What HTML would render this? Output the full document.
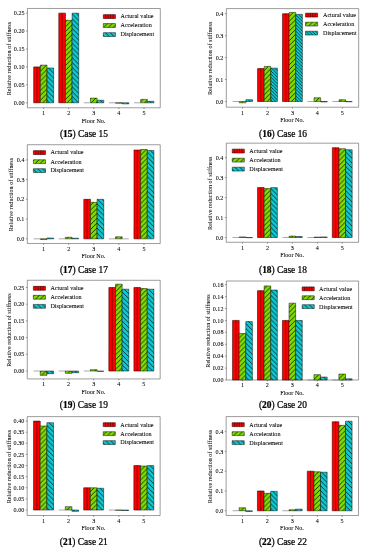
<!DOCTYPE html>
<html lang="en">
<head>
<meta charset="utf-8">
<title>Figure: Cases 15-22</title>
<style>
html,body{margin:0;padding:0;background:#fff;}
body{width:371px;height:550px;overflow:hidden;}
svg{display:block;}
text{font-family:"Liberation Serif","DejaVu Serif",serif;fill:#111;}
.t{font-size:6.12px;fill:#000;stroke:#000;stroke-width:0.06px;}
.cap{font-size:9.6px;fill:#000;}
.yl{stroke-width:0.03px;}
.b{font-weight:bold;}
</style>
</head>
<body>
<svg width="371" height="550" viewBox="0 0 371 550">
<defs>
<pattern id="hg" patternUnits="userSpaceOnUse" width="4.85" height="4.85">
<path d="M-1,1 L1,-1 M0,4.85 L4.85,0 M3.8499999999999996,5.85 L5.85,3.8499999999999996" stroke="#061000" stroke-width="0.9" stroke-opacity="0.9" fill="none"/>
</pattern>
<pattern id="hc" patternUnits="userSpaceOnUse" width="4.85" height="4.85">
<path d="M-1,3.8499999999999996 L1,5.85 M0,0 L4.85,4.85 M3.8499999999999996,-1 L5.85,1" stroke="#001012" stroke-width="0.9" stroke-opacity="0.9" fill="none"/>
</pattern>
<pattern id="hd" patternUnits="userSpaceOnUse" width="3.23" height="3.23">
<path d="M-1,2.23 L1,4.23 M0,0 L3.23,3.23 M2.23,-1 L4.23,1" stroke="#001012" stroke-width="0.8" stroke-opacity="0.88" fill="none"/>
</pattern>
</defs>
<rect x="0" y="0" width="371" height="550" fill="#ffffff"/>
<g transform="rotate(0.02)">

<g>
<rect x="27.45" y="8.45" width="132.85" height="99.3" fill="#fff" stroke="#3a3a3a" stroke-width="0.5"/>
<rect x="33.73" y="66.9" width="6.65" height="35.85" fill="#ff0000"/>
<path d="M37.05,66.9 v35.85" stroke="#700000" stroke-width="0.9" stroke-opacity="0.85" fill="none"/>
<rect x="33.73" y="66.9" width="6.65" height="35.85" fill="none" stroke="#3a0000" stroke-width="0.6"/>
<rect x="40.38" y="65.11" width="6.65" height="37.64" fill="#80dc00"/>
<rect x="40.38" y="65.11" width="6.65" height="37.64" fill="url(#hg)" stroke="#0c0c0c" stroke-width="0.5"/>
<rect x="47.02" y="67.98" width="6.65" height="34.77" fill="#10c8d0"/>
<rect x="47.02" y="67.98" width="6.65" height="34.77" fill="url(#hc)" stroke="#0c0c0c" stroke-width="0.5"/>
<rect x="58.81" y="13.12" width="6.65" height="89.62" fill="#ff0000"/>
<path d="M62.13,13.12 v89.62" stroke="#700000" stroke-width="0.9" stroke-opacity="0.85" fill="none"/>
<rect x="58.81" y="13.12" width="6.65" height="89.62" fill="none" stroke="#3a0000" stroke-width="0.6"/>
<rect x="65.46" y="20.3" width="6.65" height="82.45" fill="#80dc00"/>
<rect x="65.46" y="20.3" width="6.65" height="82.45" fill="url(#hg)" stroke="#0c0c0c" stroke-width="0.5"/>
<rect x="72.1" y="13.12" width="6.65" height="89.62" fill="#10c8d0"/>
<rect x="72.1" y="13.12" width="6.65" height="89.62" fill="url(#hc)" stroke="#0c0c0c" stroke-width="0.5"/>
<path d="M83.89,102.75 h6.65" stroke="#555" stroke-width="0.5" fill="none"/>
<rect x="90.54" y="98.09" width="6.65" height="4.66" fill="#80dc00"/>
<rect x="90.54" y="98.09" width="6.65" height="4.66" fill="url(#hg)" stroke="#0c0c0c" stroke-width="0.5"/>
<rect x="97.18" y="100.24" width="6.65" height="2.51" fill="#10c8d0"/>
<rect x="97.18" y="100.24" width="6.65" height="2.51" fill="url(#hc)" stroke="#0c0c0c" stroke-width="0.5"/>
<path d="M108.97,102.75 h6.65" stroke="#555" stroke-width="0.5" fill="none"/>
<rect x="115.62" y="102.75" width="6.65" height="0.36" fill="#80dc00"/>
<rect x="115.62" y="102.75" width="6.65" height="0.36" fill="url(#hg)" stroke="#0c0c0c" stroke-width="0.5"/>
<rect x="122.26" y="102.75" width="6.65" height="1.08" fill="#10c8d0"/>
<rect x="122.26" y="102.75" width="6.65" height="1.08" fill="url(#hc)" stroke="#0c0c0c" stroke-width="0.5"/>
<path d="M134.05,102.75 h6.65" stroke="#555" stroke-width="0.5" fill="none"/>
<rect x="140.7" y="99.34" width="6.65" height="3.41" fill="#80dc00"/>
<rect x="140.7" y="99.34" width="6.65" height="3.41" fill="url(#hg)" stroke="#0c0c0c" stroke-width="0.5"/>
<rect x="147.34" y="101.32" width="6.65" height="1.43" fill="#10c8d0"/>
<rect x="147.34" y="101.32" width="6.65" height="1.43" fill="url(#hc)" stroke="#0c0c0c" stroke-width="0.5"/>
<path d="M27.45,102.75 h-1.4 M27.45,84.83 h-1.4 M27.45,66.9 h-1.4 M27.45,48.98 h-1.4 M27.45,31.05 h-1.4 M27.45,13.12 h-1.4 M43.7,107.75 v1.4 M68.78,107.75 v1.4 M93.86,107.75 v1.4 M118.94,107.75 v1.4 M144.02,107.75 v1.4" stroke="#3a3a3a" stroke-width="0.5" fill="none"/>
<text class="t" x="24.55" y="104.9" text-anchor="end">0.00</text>
<text class="t" x="24.55" y="86.98" text-anchor="end">0.05</text>
<text class="t" x="24.55" y="69.05" text-anchor="end">0.10</text>
<text class="t" x="24.55" y="51.12" text-anchor="end">0.15</text>
<text class="t" x="24.55" y="33.2" text-anchor="end">0.20</text>
<text class="t" x="24.55" y="15.28" text-anchor="end">0.25</text>
<text class="t" x="43.7" y="115.15" text-anchor="middle">1</text>
<text class="t" x="68.78" y="115.15" text-anchor="middle">2</text>
<text class="t" x="93.86" y="115.15" text-anchor="middle">3</text>
<text class="t" x="118.94" y="115.15" text-anchor="middle">4</text>
<text class="t" x="144.02" y="115.15" text-anchor="middle">5</text>
<text class="t" x="93.56" y="122.7" text-anchor="middle">Floor No.</text>
<text class="t yl" transform="translate(10.85,58.6) rotate(-90)" text-anchor="middle">Relative reduction of stiffness</text>
<rect x="103.35" y="14.6" width="12.1" height="3.85" fill="#ff0000"/>
<path d="M105.77,14.6 v3.85 M108.19,14.6 v3.85 M110.61,14.6 v3.85 M113.03,14.6 v3.85" stroke="#600000" stroke-width="0.8" stroke-opacity="0.95" fill="none"/>
<rect x="103.35" y="14.6" width="12.1" height="3.85" fill="none" stroke="#3a0000" stroke-width="0.6"/>
<text class="t" x="120.5" y="18.4">Actural value</text>
<rect x="103.35" y="23.55" width="12.1" height="3.85" fill="#80dc00"/>
<rect x="103.35" y="23.55" width="12.1" height="3.85" fill="url(#hg)" stroke="#0c0c0c" stroke-width="0.5"/>
<text class="t" x="120.5" y="27.35">Acceleration</text>
<rect x="103.35" y="32.6" width="12.1" height="3.85" fill="#10c8d0"/>
<rect x="103.35" y="32.6" width="12.1" height="3.85" fill="url(#hc)" stroke="#0c0c0c" stroke-width="0.5"/>
<text class="t" x="120.5" y="36.4">Displacement</text>
<text class="cap" stroke="#000" stroke-width="0.24" x="84" y="136.65" text-anchor="middle" textLength="48" lengthAdjust="spacingAndGlyphs">(<tspan class="b">15</tspan>) Case 15</text>
</g>
<g>
<rect x="226.35" y="8.5" width="132.35" height="98.6" fill="#fff" stroke="#3a3a3a" stroke-width="0.5"/>
<path d="M232.69,101.4 h6.61" stroke="#555" stroke-width="0.5" fill="none"/>
<rect x="239.3" y="101.4" width="6.61" height="1.32" fill="#80dc00"/>
<rect x="239.3" y="101.4" width="6.61" height="1.32" fill="url(#hg)" stroke="#0c0c0c" stroke-width="0.5"/>
<rect x="245.9" y="99.64" width="6.61" height="1.76" fill="#10c8d0"/>
<rect x="245.9" y="99.64" width="6.61" height="1.76" fill="url(#hd)" stroke="#0c0c0c" stroke-width="0.5"/>
<rect x="257.62" y="68.49" width="6.61" height="32.91" fill="#ff0000"/>
<path d="M260.92,68.49 v32.91" stroke="#700000" stroke-width="0.9" stroke-opacity="0.85" fill="none"/>
<rect x="257.62" y="68.49" width="6.61" height="32.91" fill="none" stroke="#3a0000" stroke-width="0.6"/>
<rect x="264.23" y="66.3" width="6.61" height="35.1" fill="#80dc00"/>
<rect x="264.23" y="66.3" width="6.61" height="35.1" fill="url(#hg)" stroke="#0c0c0c" stroke-width="0.5"/>
<rect x="270.83" y="68.05" width="6.61" height="33.35" fill="#10c8d0"/>
<rect x="270.83" y="68.05" width="6.61" height="33.35" fill="url(#hd)" stroke="#0c0c0c" stroke-width="0.5"/>
<rect x="282.55" y="13.64" width="6.61" height="87.76" fill="#ff0000"/>
<path d="M285.85,13.64 v87.76" stroke="#700000" stroke-width="0.9" stroke-opacity="0.85" fill="none"/>
<rect x="282.55" y="13.64" width="6.61" height="87.76" fill="none" stroke="#3a0000" stroke-width="0.6"/>
<rect x="289.16" y="12.32" width="6.61" height="89.08" fill="#80dc00"/>
<rect x="289.16" y="12.32" width="6.61" height="89.08" fill="url(#hg)" stroke="#0c0c0c" stroke-width="0.5"/>
<rect x="295.76" y="14.3" width="6.61" height="87.1" fill="#10c8d0"/>
<rect x="295.76" y="14.3" width="6.61" height="87.1" fill="url(#hd)" stroke="#0c0c0c" stroke-width="0.5"/>
<path d="M307.48,101.4 h6.61" stroke="#555" stroke-width="0.5" fill="none"/>
<rect x="314.09" y="97.67" width="6.61" height="3.73" fill="#80dc00"/>
<rect x="314.09" y="97.67" width="6.61" height="3.73" fill="url(#hg)" stroke="#0c0c0c" stroke-width="0.5"/>
<rect x="320.69" y="101.4" width="6.61" height="0.44" fill="#10c8d0"/>
<rect x="320.69" y="101.4" width="6.61" height="0.44" fill="url(#hd)" stroke="#0c0c0c" stroke-width="0.5"/>
<path d="M332.41,101.4 h6.61" stroke="#555" stroke-width="0.5" fill="none"/>
<rect x="339.02" y="99.64" width="6.61" height="1.76" fill="#80dc00"/>
<rect x="339.02" y="99.64" width="6.61" height="1.76" fill="url(#hg)" stroke="#0c0c0c" stroke-width="0.5"/>
<rect x="345.62" y="101.4" width="6.61" height="0.22" fill="#10c8d0"/>
<rect x="345.62" y="101.4" width="6.61" height="0.22" fill="url(#hd)" stroke="#0c0c0c" stroke-width="0.5"/>
<path d="M226.35,101.4 h-1.4 M226.35,79.46 h-1.4 M226.35,57.52 h-1.4 M226.35,35.58 h-1.4 M226.35,13.64 h-1.4 M242.6,107.1 v1.4 M267.53,107.1 v1.4 M292.46,107.1 v1.4 M317.39,107.1 v1.4 M342.32,107.1 v1.4" stroke="#3a3a3a" stroke-width="0.5" fill="none"/>
<text class="t" x="223.45" y="103.55" text-anchor="end">0.0</text>
<text class="t" x="223.45" y="81.61" text-anchor="end">0.1</text>
<text class="t" x="223.45" y="59.67" text-anchor="end">0.2</text>
<text class="t" x="223.45" y="37.73" text-anchor="end">0.3</text>
<text class="t" x="223.45" y="15.79" text-anchor="end">0.4</text>
<text class="t" x="242.6" y="114.5" text-anchor="middle">1</text>
<text class="t" x="267.53" y="114.5" text-anchor="middle">2</text>
<text class="t" x="292.46" y="114.5" text-anchor="middle">3</text>
<text class="t" x="317.39" y="114.5" text-anchor="middle">4</text>
<text class="t" x="342.32" y="114.5" text-anchor="middle">5</text>
<text class="t" x="292.16" y="122.05" text-anchor="middle">Floor No.</text>
<text class="t yl" transform="translate(212.25,58.3) rotate(-90)" text-anchor="middle">Relative reduction of stiffness</text>
<rect x="305.55" y="13.1" width="12.1" height="3.85" fill="#ff0000"/>
<path d="M307.97,13.1 v3.85 M310.39,13.1 v3.85 M312.81,13.1 v3.85 M315.23,13.1 v3.85" stroke="#600000" stroke-width="0.8" stroke-opacity="0.95" fill="none"/>
<rect x="305.55" y="13.1" width="12.1" height="3.85" fill="none" stroke="#3a0000" stroke-width="0.6"/>
<text class="t" x="323" y="16.9">Actural value</text>
<rect x="305.55" y="22.1" width="12.1" height="3.85" fill="#80dc00"/>
<rect x="305.55" y="22.1" width="12.1" height="3.85" fill="url(#hg)" stroke="#0c0c0c" stroke-width="0.5"/>
<text class="t" x="323" y="25.9">Acceleration</text>
<rect x="305.55" y="31.1" width="12.1" height="3.85" fill="#10c8d0"/>
<rect x="305.55" y="31.1" width="12.1" height="3.85" fill="url(#hd)" stroke="#0c0c0c" stroke-width="0.5"/>
<text class="t" x="323" y="34.9">Displacement</text>
<text class="cap" stroke="#000" stroke-width="0.24" x="283.1" y="136.65" text-anchor="middle" textLength="48" lengthAdjust="spacingAndGlyphs">(<tspan class="b">16</tspan>) Case 16</text>
</g>
<g>
<rect x="27.4" y="144.7" width="132.9" height="98.8" fill="#fff" stroke="#3a3a3a" stroke-width="0.5"/>
<path d="M33.73,238.8 h6.65" stroke="#555" stroke-width="0.5" fill="none"/>
<rect x="40.38" y="238.8" width="6.65" height="0.59" fill="#80dc00"/>
<rect x="40.38" y="238.8" width="6.65" height="0.59" fill="url(#hg)" stroke="#0c0c0c" stroke-width="0.5"/>
<rect x="47.02" y="238.01" width="6.65" height="0.79" fill="#10c8d0"/>
<rect x="47.02" y="238.01" width="6.65" height="0.79" fill="url(#hc)" stroke="#0c0c0c" stroke-width="0.5"/>
<path d="M58.81,238.8 h6.65" stroke="#555" stroke-width="0.5" fill="none"/>
<rect x="65.46" y="237.22" width="6.65" height="1.58" fill="#80dc00"/>
<rect x="65.46" y="237.22" width="6.65" height="1.58" fill="url(#hg)" stroke="#0c0c0c" stroke-width="0.5"/>
<rect x="72.1" y="238.21" width="6.65" height="0.59" fill="#10c8d0"/>
<rect x="72.1" y="238.21" width="6.65" height="0.59" fill="url(#hc)" stroke="#0c0c0c" stroke-width="0.5"/>
<rect x="83.89" y="199.34" width="6.65" height="39.46" fill="#ff0000"/>
<path d="M87.21,199.34 v39.46" stroke="#700000" stroke-width="0.9" stroke-opacity="0.85" fill="none"/>
<rect x="83.89" y="199.34" width="6.65" height="39.46" fill="none" stroke="#3a0000" stroke-width="0.6"/>
<rect x="90.54" y="202.3" width="6.65" height="36.5" fill="#80dc00"/>
<rect x="90.54" y="202.3" width="6.65" height="36.5" fill="url(#hg)" stroke="#0c0c0c" stroke-width="0.5"/>
<rect x="97.18" y="199.34" width="6.65" height="39.46" fill="#10c8d0"/>
<rect x="97.18" y="199.34" width="6.65" height="39.46" fill="url(#hc)" stroke="#0c0c0c" stroke-width="0.5"/>
<path d="M108.97,238.8 h6.65" stroke="#555" stroke-width="0.5" fill="none"/>
<rect x="115.62" y="236.83" width="6.65" height="1.97" fill="#80dc00"/>
<rect x="115.62" y="236.83" width="6.65" height="1.97" fill="url(#hg)" stroke="#0c0c0c" stroke-width="0.5"/>
<path d="M122.26,238.8 h6.65" stroke="#555" stroke-width="0.5" fill="none"/>
<rect x="134.05" y="150.01" width="6.65" height="88.79" fill="#ff0000"/>
<path d="M137.37,150.01 v88.79" stroke="#700000" stroke-width="0.9" stroke-opacity="0.85" fill="none"/>
<rect x="134.05" y="150.01" width="6.65" height="88.79" fill="none" stroke="#3a0000" stroke-width="0.6"/>
<rect x="140.7" y="149.42" width="6.65" height="89.38" fill="#80dc00"/>
<rect x="140.7" y="149.42" width="6.65" height="89.38" fill="url(#hg)" stroke="#0c0c0c" stroke-width="0.5"/>
<rect x="147.34" y="150.41" width="6.65" height="88.39" fill="#10c8d0"/>
<rect x="147.34" y="150.41" width="6.65" height="88.39" fill="url(#hc)" stroke="#0c0c0c" stroke-width="0.5"/>
<path d="M27.4,238.8 h-1.4 M27.4,219.07 h-1.4 M27.4,199.34 h-1.4 M27.4,179.61 h-1.4 M27.4,159.88 h-1.4 M43.7,243.5 v1.4 M68.78,243.5 v1.4 M93.86,243.5 v1.4 M118.94,243.5 v1.4 M144.02,243.5 v1.4" stroke="#3a3a3a" stroke-width="0.5" fill="none"/>
<text class="t" x="24.5" y="240.95" text-anchor="end">0.0</text>
<text class="t" x="24.5" y="221.22" text-anchor="end">0.1</text>
<text class="t" x="24.5" y="201.49" text-anchor="end">0.2</text>
<text class="t" x="24.5" y="181.76" text-anchor="end">0.3</text>
<text class="t" x="24.5" y="162.03" text-anchor="end">0.4</text>
<text class="t" x="43.7" y="250.9" text-anchor="middle">1</text>
<text class="t" x="68.78" y="250.9" text-anchor="middle">2</text>
<text class="t" x="93.86" y="250.9" text-anchor="middle">3</text>
<text class="t" x="118.94" y="250.9" text-anchor="middle">4</text>
<text class="t" x="144.02" y="250.9" text-anchor="middle">5</text>
<text class="t" x="93.56" y="258.45" text-anchor="middle">Floor No.</text>
<text class="t yl" transform="translate(13.3,194.6) rotate(-90)" text-anchor="middle">Relative reduction of stiffness</text>
<rect x="33.45" y="150.65" width="12.1" height="3.85" fill="#ff0000"/>
<path d="M35.87,150.65 v3.85 M38.29,150.65 v3.85 M40.71,150.65 v3.85 M43.13,150.65 v3.85" stroke="#600000" stroke-width="0.8" stroke-opacity="0.95" fill="none"/>
<rect x="33.45" y="150.65" width="12.1" height="3.85" fill="none" stroke="#3a0000" stroke-width="0.6"/>
<text class="t" x="50.5" y="154.45">Actural value</text>
<rect x="33.45" y="159.75" width="12.1" height="3.85" fill="#80dc00"/>
<rect x="33.45" y="159.75" width="12.1" height="3.85" fill="url(#hg)" stroke="#0c0c0c" stroke-width="0.5"/>
<text class="t" x="50.5" y="163.55">Acceleration</text>
<rect x="33.45" y="168.65" width="12.1" height="3.85" fill="#10c8d0"/>
<rect x="33.45" y="168.65" width="12.1" height="3.85" fill="url(#hc)" stroke="#0c0c0c" stroke-width="0.5"/>
<text class="t" x="50.5" y="172.45">Displacement</text>
<text class="cap" stroke="#000" stroke-width="0.24" x="84" y="272.75" text-anchor="middle" textLength="48" lengthAdjust="spacingAndGlyphs">(<tspan class="b">17</tspan>) Case 17</text>
</g>
<g>
<rect x="226.35" y="143.07" width="132.35" height="99.13" fill="#fff" stroke="#3a3a3a" stroke-width="0.5"/>
<path d="M232.69,237.4 h6.61" stroke="#555" stroke-width="0.5" fill="none"/>
<rect x="239.3" y="236.8" width="6.61" height="0.6" fill="#80dc00"/>
<rect x="239.3" y="236.8" width="6.61" height="0.6" fill="url(#hg)" stroke="#0c0c0c" stroke-width="0.5"/>
<rect x="245.9" y="237.4" width="6.61" height="0.2" fill="#10c8d0"/>
<rect x="245.9" y="237.4" width="6.61" height="0.2" fill="url(#hc)" stroke="#0c0c0c" stroke-width="0.5"/>
<rect x="257.62" y="187.53" width="6.61" height="49.88" fill="#ff0000"/>
<path d="M260.92,187.53 v49.88" stroke="#700000" stroke-width="0.9" stroke-opacity="0.85" fill="none"/>
<rect x="257.62" y="187.53" width="6.61" height="49.88" fill="none" stroke="#3a0000" stroke-width="0.6"/>
<rect x="264.23" y="188.52" width="6.61" height="48.88" fill="#80dc00"/>
<rect x="264.23" y="188.52" width="6.61" height="48.88" fill="url(#hg)" stroke="#0c0c0c" stroke-width="0.5"/>
<rect x="270.83" y="187.53" width="6.61" height="49.88" fill="#10c8d0"/>
<rect x="270.83" y="187.53" width="6.61" height="49.88" fill="url(#hc)" stroke="#0c0c0c" stroke-width="0.5"/>
<path d="M282.55,237.4 h6.61" stroke="#555" stroke-width="0.5" fill="none"/>
<rect x="289.16" y="236" width="6.61" height="1.4" fill="#80dc00"/>
<rect x="289.16" y="236" width="6.61" height="1.4" fill="url(#hg)" stroke="#0c0c0c" stroke-width="0.5"/>
<rect x="295.76" y="236.4" width="6.61" height="1" fill="#10c8d0"/>
<rect x="295.76" y="236.4" width="6.61" height="1" fill="url(#hc)" stroke="#0c0c0c" stroke-width="0.5"/>
<path d="M307.48,237.4 h6.61" stroke="#555" stroke-width="0.5" fill="none"/>
<rect x="314.09" y="237" width="6.61" height="0.4" fill="#80dc00"/>
<rect x="314.09" y="237" width="6.61" height="0.4" fill="url(#hg)" stroke="#0c0c0c" stroke-width="0.5"/>
<rect x="320.69" y="236.8" width="6.61" height="0.6" fill="#10c8d0"/>
<rect x="320.69" y="236.8" width="6.61" height="0.6" fill="url(#hc)" stroke="#0c0c0c" stroke-width="0.5"/>
<rect x="332.41" y="147.62" width="6.61" height="89.78" fill="#ff0000"/>
<path d="M335.71,147.62 v89.78" stroke="#700000" stroke-width="0.9" stroke-opacity="0.85" fill="none"/>
<rect x="332.41" y="147.62" width="6.61" height="89.78" fill="none" stroke="#3a0000" stroke-width="0.6"/>
<rect x="339.02" y="148.62" width="6.61" height="88.78" fill="#80dc00"/>
<rect x="339.02" y="148.62" width="6.61" height="88.78" fill="url(#hg)" stroke="#0c0c0c" stroke-width="0.5"/>
<rect x="345.62" y="149.62" width="6.61" height="87.78" fill="#10c8d0"/>
<rect x="345.62" y="149.62" width="6.61" height="87.78" fill="url(#hc)" stroke="#0c0c0c" stroke-width="0.5"/>
<path d="M226.35,237.4 h-1.4 M226.35,217.45 h-1.4 M226.35,197.5 h-1.4 M226.35,177.55 h-1.4 M226.35,157.6 h-1.4 M242.6,242.2 v1.4 M267.53,242.2 v1.4 M292.46,242.2 v1.4 M317.39,242.2 v1.4 M342.32,242.2 v1.4" stroke="#3a3a3a" stroke-width="0.5" fill="none"/>
<text class="t" x="223.45" y="239.55" text-anchor="end">0.0</text>
<text class="t" x="223.45" y="219.6" text-anchor="end">0.1</text>
<text class="t" x="223.45" y="199.65" text-anchor="end">0.2</text>
<text class="t" x="223.45" y="179.7" text-anchor="end">0.3</text>
<text class="t" x="223.45" y="159.75" text-anchor="end">0.4</text>
<text class="t" x="242.6" y="249.6" text-anchor="middle">1</text>
<text class="t" x="267.53" y="249.6" text-anchor="middle">2</text>
<text class="t" x="292.46" y="249.6" text-anchor="middle">3</text>
<text class="t" x="317.39" y="249.6" text-anchor="middle">4</text>
<text class="t" x="342.32" y="249.6" text-anchor="middle">5</text>
<text class="t" x="292.16" y="257.15" text-anchor="middle">Floor No.</text>
<text class="t yl" transform="translate(212.25,193.13) rotate(-90)" text-anchor="middle">Relative reduction of stiffness</text>
<rect x="232.3" y="149.05" width="12.1" height="3.85" fill="#ff0000"/>
<path d="M234.72,149.05 v3.85 M237.14,149.05 v3.85 M239.56,149.05 v3.85 M241.98,149.05 v3.85" stroke="#600000" stroke-width="0.8" stroke-opacity="0.95" fill="none"/>
<rect x="232.3" y="149.05" width="12.1" height="3.85" fill="none" stroke="#3a0000" stroke-width="0.6"/>
<text class="t" x="249.4" y="152.85">Actural value</text>
<rect x="232.3" y="158.15" width="12.1" height="3.85" fill="#80dc00"/>
<rect x="232.3" y="158.15" width="12.1" height="3.85" fill="url(#hg)" stroke="#0c0c0c" stroke-width="0.5"/>
<text class="t" x="249.4" y="161.95">Acceleration</text>
<rect x="232.3" y="167.15" width="12.1" height="3.85" fill="#10c8d0"/>
<rect x="232.3" y="167.15" width="12.1" height="3.85" fill="url(#hc)" stroke="#0c0c0c" stroke-width="0.5"/>
<text class="t" x="249.4" y="170.95">Displacement</text>
<text class="cap" stroke="#000" stroke-width="0.24" x="283.1" y="272.75" text-anchor="middle" textLength="48" lengthAdjust="spacingAndGlyphs">(<tspan class="b">18</tspan>) Case 18</text>
</g>
<g>
<rect x="27.4" y="280.25" width="132.9" height="98.65" fill="#fff" stroke="#3a3a3a" stroke-width="0.5"/>
<path d="M33.73,371 h6.65" stroke="#555" stroke-width="0.5" fill="none"/>
<rect x="40.38" y="371" width="6.65" height="4.34" fill="#80dc00"/>
<rect x="40.38" y="371" width="6.65" height="4.34" fill="url(#hg)" stroke="#0c0c0c" stroke-width="0.5"/>
<rect x="47.02" y="371" width="6.65" height="2.67" fill="#10c8d0"/>
<rect x="47.02" y="371" width="6.65" height="2.67" fill="url(#hc)" stroke="#0c0c0c" stroke-width="0.5"/>
<path d="M58.81,371 h6.65" stroke="#555" stroke-width="0.5" fill="none"/>
<rect x="65.46" y="371" width="6.65" height="2.34" fill="#80dc00"/>
<rect x="65.46" y="371" width="6.65" height="2.34" fill="url(#hg)" stroke="#0c0c0c" stroke-width="0.5"/>
<rect x="72.1" y="371" width="6.65" height="1.67" fill="#10c8d0"/>
<rect x="72.1" y="371" width="6.65" height="1.67" fill="url(#hc)" stroke="#0c0c0c" stroke-width="0.5"/>
<path d="M83.89,371 h6.65" stroke="#555" stroke-width="0.5" fill="none"/>
<rect x="90.54" y="369.66" width="6.65" height="1.34" fill="#80dc00"/>
<rect x="90.54" y="369.66" width="6.65" height="1.34" fill="url(#hg)" stroke="#0c0c0c" stroke-width="0.5"/>
<rect x="97.18" y="371" width="6.65" height="0.33" fill="#10c8d0"/>
<rect x="97.18" y="371" width="6.65" height="0.33" fill="url(#hc)" stroke="#0c0c0c" stroke-width="0.5"/>
<rect x="108.97" y="287.5" width="6.65" height="83.5" fill="#ff0000"/>
<path d="M112.29,287.5 v83.5" stroke="#700000" stroke-width="0.9" stroke-opacity="0.85" fill="none"/>
<rect x="108.97" y="287.5" width="6.65" height="83.5" fill="none" stroke="#3a0000" stroke-width="0.6"/>
<rect x="115.62" y="284.16" width="6.65" height="86.84" fill="#80dc00"/>
<rect x="115.62" y="284.16" width="6.65" height="86.84" fill="url(#hg)" stroke="#0c0c0c" stroke-width="0.5"/>
<rect x="122.26" y="289.17" width="6.65" height="81.83" fill="#10c8d0"/>
<rect x="122.26" y="289.17" width="6.65" height="81.83" fill="url(#hc)" stroke="#0c0c0c" stroke-width="0.5"/>
<rect x="134.05" y="287.5" width="6.65" height="83.5" fill="#ff0000"/>
<path d="M137.37,287.5 v83.5" stroke="#700000" stroke-width="0.9" stroke-opacity="0.85" fill="none"/>
<rect x="134.05" y="287.5" width="6.65" height="83.5" fill="none" stroke="#3a0000" stroke-width="0.6"/>
<rect x="140.7" y="288.5" width="6.65" height="82.5" fill="#80dc00"/>
<rect x="140.7" y="288.5" width="6.65" height="82.5" fill="url(#hg)" stroke="#0c0c0c" stroke-width="0.5"/>
<rect x="147.34" y="289.17" width="6.65" height="81.83" fill="#10c8d0"/>
<rect x="147.34" y="289.17" width="6.65" height="81.83" fill="url(#hc)" stroke="#0c0c0c" stroke-width="0.5"/>
<path d="M27.4,371 h-1.4 M27.4,354.3 h-1.4 M27.4,337.6 h-1.4 M27.4,320.9 h-1.4 M27.4,304.2 h-1.4 M27.4,287.5 h-1.4 M43.7,378.9 v1.4 M68.78,378.9 v1.4 M93.86,378.9 v1.4 M118.94,378.9 v1.4 M144.02,378.9 v1.4" stroke="#3a3a3a" stroke-width="0.5" fill="none"/>
<text class="t" x="24.5" y="373.15" text-anchor="end">0.00</text>
<text class="t" x="24.5" y="356.45" text-anchor="end">0.05</text>
<text class="t" x="24.5" y="339.75" text-anchor="end">0.10</text>
<text class="t" x="24.5" y="323.05" text-anchor="end">0.15</text>
<text class="t" x="24.5" y="306.35" text-anchor="end">0.20</text>
<text class="t" x="24.5" y="289.65" text-anchor="end">0.25</text>
<text class="t" x="43.7" y="386.3" text-anchor="middle">1</text>
<text class="t" x="68.78" y="386.3" text-anchor="middle">2</text>
<text class="t" x="93.86" y="386.3" text-anchor="middle">3</text>
<text class="t" x="118.94" y="386.3" text-anchor="middle">4</text>
<text class="t" x="144.02" y="386.3" text-anchor="middle">5</text>
<text class="t" x="93.56" y="393.85" text-anchor="middle">Floor No.</text>
<text class="t yl" transform="translate(10.8,330.07) rotate(-90)" text-anchor="middle">Relative reduction of stiffness</text>
<rect x="33.45" y="286.35" width="12.1" height="3.85" fill="#ff0000"/>
<path d="M35.87,286.35 v3.85 M38.29,286.35 v3.85 M40.71,286.35 v3.85 M43.13,286.35 v3.85" stroke="#600000" stroke-width="0.8" stroke-opacity="0.95" fill="none"/>
<rect x="33.45" y="286.35" width="12.1" height="3.85" fill="none" stroke="#3a0000" stroke-width="0.6"/>
<text class="t" x="50.5" y="290.15">Actural value</text>
<rect x="33.45" y="295.3" width="12.1" height="3.85" fill="#80dc00"/>
<rect x="33.45" y="295.3" width="12.1" height="3.85" fill="url(#hg)" stroke="#0c0c0c" stroke-width="0.5"/>
<text class="t" x="50.5" y="299.1">Acceleration</text>
<rect x="33.45" y="304.4" width="12.1" height="3.85" fill="#10c8d0"/>
<rect x="33.45" y="304.4" width="12.1" height="3.85" fill="url(#hc)" stroke="#0c0c0c" stroke-width="0.5"/>
<text class="t" x="50.5" y="308.2">Displacement</text>
<text class="cap" stroke="#000" stroke-width="0.24" x="84" y="408.25" text-anchor="middle" textLength="48" lengthAdjust="spacingAndGlyphs">(<tspan class="b">19</tspan>) Case 19</text>
</g>
<g>
<rect x="226.5" y="280.95" width="132.2" height="98.95" fill="#fff" stroke="#3a3a3a" stroke-width="0.5"/>
<rect x="232.69" y="320.34" width="6.61" height="59.56" fill="#ff0000"/>
<path d="M235.99,320.34 v59.56" stroke="#700000" stroke-width="0.9" stroke-opacity="0.85" fill="none"/>
<rect x="232.69" y="320.34" width="6.61" height="59.56" fill="none" stroke="#3a0000" stroke-width="0.6"/>
<rect x="239.3" y="333.44" width="6.61" height="46.46" fill="#80dc00"/>
<rect x="239.3" y="333.44" width="6.61" height="46.46" fill="url(#hg)" stroke="#0c0c0c" stroke-width="0.5"/>
<rect x="245.9" y="321.53" width="6.61" height="58.37" fill="#10c8d0"/>
<rect x="245.9" y="321.53" width="6.61" height="58.37" fill="url(#hc)" stroke="#0c0c0c" stroke-width="0.5"/>
<rect x="257.62" y="290.56" width="6.61" height="89.34" fill="#ff0000"/>
<path d="M260.92,290.56 v89.34" stroke="#700000" stroke-width="0.9" stroke-opacity="0.85" fill="none"/>
<rect x="257.62" y="290.56" width="6.61" height="89.34" fill="none" stroke="#3a0000" stroke-width="0.6"/>
<rect x="264.23" y="285.8" width="6.61" height="94.1" fill="#80dc00"/>
<rect x="264.23" y="285.8" width="6.61" height="94.1" fill="url(#hg)" stroke="#0c0c0c" stroke-width="0.5"/>
<rect x="270.83" y="289.96" width="6.61" height="89.94" fill="#10c8d0"/>
<rect x="270.83" y="289.96" width="6.61" height="89.94" fill="url(#hc)" stroke="#0c0c0c" stroke-width="0.5"/>
<rect x="282.55" y="320.34" width="6.61" height="59.56" fill="#ff0000"/>
<path d="M285.85,320.34 v59.56" stroke="#700000" stroke-width="0.9" stroke-opacity="0.85" fill="none"/>
<rect x="282.55" y="320.34" width="6.61" height="59.56" fill="none" stroke="#3a0000" stroke-width="0.6"/>
<rect x="289.16" y="303.07" width="6.61" height="76.83" fill="#80dc00"/>
<rect x="289.16" y="303.07" width="6.61" height="76.83" fill="url(#hg)" stroke="#0c0c0c" stroke-width="0.5"/>
<rect x="295.76" y="320.34" width="6.61" height="59.56" fill="#10c8d0"/>
<rect x="295.76" y="320.34" width="6.61" height="59.56" fill="url(#hc)" stroke="#0c0c0c" stroke-width="0.5"/>
<path d="M307.48,379.9 h6.61" stroke="#555" stroke-width="0.5" fill="none"/>
<rect x="314.09" y="374.54" width="6.61" height="5.36" fill="#80dc00"/>
<rect x="314.09" y="374.54" width="6.61" height="5.36" fill="url(#hg)" stroke="#0c0c0c" stroke-width="0.5"/>
<rect x="320.69" y="376.92" width="6.61" height="2.98" fill="#10c8d0"/>
<rect x="320.69" y="376.92" width="6.61" height="2.98" fill="url(#hc)" stroke="#0c0c0c" stroke-width="0.5"/>
<path d="M332.41,379.9 h6.61" stroke="#555" stroke-width="0.5" fill="none"/>
<rect x="339.02" y="373.94" width="6.61" height="5.96" fill="#80dc00"/>
<rect x="339.02" y="373.94" width="6.61" height="5.96" fill="url(#hg)" stroke="#0c0c0c" stroke-width="0.5"/>
<rect x="345.62" y="378.71" width="6.61" height="1.19" fill="#10c8d0"/>
<rect x="345.62" y="378.71" width="6.61" height="1.19" fill="url(#hc)" stroke="#0c0c0c" stroke-width="0.5"/>
<path d="M226.5,379.9 h-1.4 M226.5,367.99 h-1.4 M226.5,356.08 h-1.4 M226.5,344.16 h-1.4 M226.5,332.25 h-1.4 M226.5,320.34 h-1.4 M226.5,308.43 h-1.4 M226.5,296.52 h-1.4 M226.5,284.6 h-1.4 M242.6,379.9 v1.4 M267.53,379.9 v1.4 M292.46,379.9 v1.4 M317.39,379.9 v1.4 M342.32,379.9 v1.4" stroke="#3a3a3a" stroke-width="0.5" fill="none"/>
<text class="t" x="223.6" y="382.05" text-anchor="end">0.00</text>
<text class="t" x="223.6" y="370.14" text-anchor="end">0.02</text>
<text class="t" x="223.6" y="358.23" text-anchor="end">0.04</text>
<text class="t" x="223.6" y="346.31" text-anchor="end">0.06</text>
<text class="t" x="223.6" y="334.4" text-anchor="end">0.08</text>
<text class="t" x="223.6" y="322.49" text-anchor="end">0.10</text>
<text class="t" x="223.6" y="310.58" text-anchor="end">0.12</text>
<text class="t" x="223.6" y="298.67" text-anchor="end">0.14</text>
<text class="t" x="223.6" y="286.75" text-anchor="end">0.16</text>
<text class="t" x="242.6" y="387.3" text-anchor="middle">1</text>
<text class="t" x="267.53" y="387.3" text-anchor="middle">2</text>
<text class="t" x="292.46" y="387.3" text-anchor="middle">3</text>
<text class="t" x="317.39" y="387.3" text-anchor="middle">4</text>
<text class="t" x="342.32" y="387.3" text-anchor="middle">5</text>
<text class="t" x="292.16" y="394.85" text-anchor="middle">Floor No.</text>
<text class="t yl" transform="translate(209.9,330.92) rotate(-90)" text-anchor="middle">Relative reduction of stiffness</text>
<rect x="302.25" y="286.8" width="12.1" height="3.85" fill="#ff0000"/>
<path d="M304.67,286.8 v3.85 M307.09,286.8 v3.85 M309.51,286.8 v3.85 M311.93,286.8 v3.85" stroke="#600000" stroke-width="0.8" stroke-opacity="0.95" fill="none"/>
<rect x="302.25" y="286.8" width="12.1" height="3.85" fill="none" stroke="#3a0000" stroke-width="0.6"/>
<text class="t" x="319.2" y="290.6">Actural value</text>
<rect x="302.25" y="295.7" width="12.1" height="3.85" fill="#80dc00"/>
<rect x="302.25" y="295.7" width="12.1" height="3.85" fill="url(#hg)" stroke="#0c0c0c" stroke-width="0.5"/>
<text class="t" x="319.2" y="299.5">Acceleration</text>
<rect x="302.25" y="304.6" width="12.1" height="3.85" fill="#10c8d0"/>
<rect x="302.25" y="304.6" width="12.1" height="3.85" fill="url(#hc)" stroke="#0c0c0c" stroke-width="0.5"/>
<text class="t" x="319.2" y="308.4">Displacement</text>
<text class="cap" stroke="#000" stroke-width="0.24" x="283.1" y="408.25" text-anchor="middle" textLength="48" lengthAdjust="spacingAndGlyphs">(<tspan class="b">20</tspan>) Case 20</text>
</g>
<g>
<rect x="27.35" y="416.6" width="132.95" height="98.9" fill="#fff" stroke="#3a3a3a" stroke-width="0.5"/>
<rect x="33.73" y="421.1" width="6.65" height="88.9" fill="#ff0000"/>
<path d="M37.05,421.1 v88.9" stroke="#700000" stroke-width="0.9" stroke-opacity="0.85" fill="none"/>
<rect x="33.73" y="421.1" width="6.65" height="88.9" fill="none" stroke="#3a0000" stroke-width="0.6"/>
<rect x="40.38" y="425.99" width="6.65" height="84.01" fill="#80dc00"/>
<rect x="40.38" y="425.99" width="6.65" height="84.01" fill="url(#hg)" stroke="#0c0c0c" stroke-width="0.5"/>
<rect x="47.02" y="422.66" width="6.65" height="87.34" fill="#10c8d0"/>
<rect x="47.02" y="422.66" width="6.65" height="87.34" fill="url(#hc)" stroke="#0c0c0c" stroke-width="0.5"/>
<path d="M58.81,510 h6.65" stroke="#555" stroke-width="0.5" fill="none"/>
<rect x="65.46" y="506.67" width="6.65" height="3.33" fill="#80dc00"/>
<rect x="65.46" y="506.67" width="6.65" height="3.33" fill="url(#hg)" stroke="#0c0c0c" stroke-width="0.5"/>
<rect x="72.1" y="510" width="6.65" height="1.33" fill="#10c8d0"/>
<rect x="72.1" y="510" width="6.65" height="1.33" fill="url(#hc)" stroke="#0c0c0c" stroke-width="0.5"/>
<rect x="83.89" y="487.77" width="6.65" height="22.23" fill="#ff0000"/>
<path d="M87.21,487.77 v22.23" stroke="#700000" stroke-width="0.9" stroke-opacity="0.85" fill="none"/>
<rect x="83.89" y="487.77" width="6.65" height="22.23" fill="none" stroke="#3a0000" stroke-width="0.6"/>
<rect x="90.54" y="487.77" width="6.65" height="22.23" fill="#80dc00"/>
<rect x="90.54" y="487.77" width="6.65" height="22.23" fill="url(#hg)" stroke="#0c0c0c" stroke-width="0.5"/>
<rect x="97.18" y="488.22" width="6.65" height="21.78" fill="#10c8d0"/>
<rect x="97.18" y="488.22" width="6.65" height="21.78" fill="url(#hc)" stroke="#0c0c0c" stroke-width="0.5"/>
<path d="M108.97,510 h6.65" stroke="#555" stroke-width="0.5" fill="none"/>
<rect x="115.62" y="510" width="6.65" height="0.22" fill="#80dc00"/>
<rect x="115.62" y="510" width="6.65" height="0.22" fill="url(#hg)" stroke="#0c0c0c" stroke-width="0.5"/>
<rect x="122.26" y="510" width="6.65" height="0.44" fill="#10c8d0"/>
<rect x="122.26" y="510" width="6.65" height="0.44" fill="url(#hc)" stroke="#0c0c0c" stroke-width="0.5"/>
<rect x="134.05" y="465.55" width="6.65" height="44.45" fill="#ff0000"/>
<path d="M137.37,465.55 v44.45" stroke="#700000" stroke-width="0.9" stroke-opacity="0.85" fill="none"/>
<rect x="134.05" y="465.55" width="6.65" height="44.45" fill="none" stroke="#3a0000" stroke-width="0.6"/>
<rect x="140.7" y="465.99" width="6.65" height="44.01" fill="#80dc00"/>
<rect x="140.7" y="465.99" width="6.65" height="44.01" fill="url(#hg)" stroke="#0c0c0c" stroke-width="0.5"/>
<rect x="147.34" y="465.55" width="6.65" height="44.45" fill="#10c8d0"/>
<rect x="147.34" y="465.55" width="6.65" height="44.45" fill="url(#hc)" stroke="#0c0c0c" stroke-width="0.5"/>
<path d="M27.35,510 h-1.4 M27.35,498.89 h-1.4 M27.35,487.77 h-1.4 M27.35,476.66 h-1.4 M27.35,465.55 h-1.4 M27.35,454.44 h-1.4 M27.35,443.32 h-1.4 M27.35,432.21 h-1.4 M27.35,421.1 h-1.4 M43.7,515.5 v1.4 M68.78,515.5 v1.4 M93.86,515.5 v1.4 M118.94,515.5 v1.4 M144.02,515.5 v1.4" stroke="#3a3a3a" stroke-width="0.5" fill="none"/>
<text class="t" x="24.45" y="512.15" text-anchor="end">0.00</text>
<text class="t" x="24.45" y="501.04" text-anchor="end">0.05</text>
<text class="t" x="24.45" y="489.92" text-anchor="end">0.10</text>
<text class="t" x="24.45" y="478.81" text-anchor="end">0.15</text>
<text class="t" x="24.45" y="467.7" text-anchor="end">0.20</text>
<text class="t" x="24.45" y="456.59" text-anchor="end">0.25</text>
<text class="t" x="24.45" y="445.47" text-anchor="end">0.30</text>
<text class="t" x="24.45" y="434.36" text-anchor="end">0.35</text>
<text class="t" x="24.45" y="423.25" text-anchor="end">0.40</text>
<text class="t" x="43.7" y="522.9" text-anchor="middle">1</text>
<text class="t" x="68.78" y="522.9" text-anchor="middle">2</text>
<text class="t" x="93.86" y="522.9" text-anchor="middle">3</text>
<text class="t" x="118.94" y="522.9" text-anchor="middle">4</text>
<text class="t" x="144.02" y="522.9" text-anchor="middle">5</text>
<text class="t" x="93.56" y="530.45" text-anchor="middle">Floor No.</text>
<text class="t yl" transform="translate(10.75,466.55) rotate(-90)" text-anchor="middle">Relative reduction of stiffness</text>
<rect x="103.35" y="422.7" width="12.1" height="3.85" fill="#ff0000"/>
<path d="M105.77,422.7 v3.85 M108.19,422.7 v3.85 M110.61,422.7 v3.85 M113.03,422.7 v3.85" stroke="#600000" stroke-width="0.8" stroke-opacity="0.95" fill="none"/>
<rect x="103.35" y="422.7" width="12.1" height="3.85" fill="none" stroke="#3a0000" stroke-width="0.6"/>
<text class="t" x="120.5" y="426.5">Actural value</text>
<rect x="103.35" y="431.7" width="12.1" height="3.85" fill="#80dc00"/>
<rect x="103.35" y="431.7" width="12.1" height="3.85" fill="url(#hg)" stroke="#0c0c0c" stroke-width="0.5"/>
<text class="t" x="120.5" y="435.5">Acceleration</text>
<rect x="103.35" y="440.6" width="12.1" height="3.85" fill="#10c8d0"/>
<rect x="103.35" y="440.6" width="12.1" height="3.85" fill="url(#hc)" stroke="#0c0c0c" stroke-width="0.5"/>
<text class="t" x="120.5" y="444.4">Displacement</text>
<text class="cap" stroke="#000" stroke-width="0.24" x="84" y="544.75" text-anchor="middle" textLength="48" lengthAdjust="spacingAndGlyphs">(<tspan class="b">21</tspan>) Case 21</text>
</g>
<g>
<rect x="226.3" y="416.5" width="132.4" height="98.9" fill="#fff" stroke="#3a3a3a" stroke-width="0.5"/>
<path d="M232.69,510.66 h6.61" stroke="#555" stroke-width="0.5" fill="none"/>
<rect x="239.3" y="507.69" width="6.61" height="2.97" fill="#80dc00"/>
<rect x="239.3" y="507.69" width="6.61" height="2.97" fill="url(#hg)" stroke="#0c0c0c" stroke-width="0.5"/>
<rect x="245.9" y="510.66" width="6.61" height="0.79" fill="#10c8d0"/>
<rect x="245.9" y="510.66" width="6.61" height="0.79" fill="url(#hc)" stroke="#0c0c0c" stroke-width="0.5"/>
<rect x="257.62" y="490.89" width="6.61" height="19.78" fill="#ff0000"/>
<path d="M260.92,490.89 v19.78" stroke="#700000" stroke-width="0.9" stroke-opacity="0.85" fill="none"/>
<rect x="257.62" y="490.89" width="6.61" height="19.78" fill="none" stroke="#3a0000" stroke-width="0.6"/>
<rect x="264.23" y="493.26" width="6.61" height="17.4" fill="#80dc00"/>
<rect x="264.23" y="493.26" width="6.61" height="17.4" fill="url(#hg)" stroke="#0c0c0c" stroke-width="0.5"/>
<rect x="270.83" y="491.28" width="6.61" height="19.38" fill="#10c8d0"/>
<rect x="270.83" y="491.28" width="6.61" height="19.38" fill="url(#hc)" stroke="#0c0c0c" stroke-width="0.5"/>
<path d="M282.55,510.66 h6.61" stroke="#555" stroke-width="0.5" fill="none"/>
<rect x="289.16" y="509.67" width="6.61" height="0.99" fill="#80dc00"/>
<rect x="289.16" y="509.67" width="6.61" height="0.99" fill="url(#hg)" stroke="#0c0c0c" stroke-width="0.5"/>
<rect x="295.76" y="509.08" width="6.61" height="1.58" fill="#10c8d0"/>
<rect x="295.76" y="509.08" width="6.61" height="1.58" fill="url(#hc)" stroke="#0c0c0c" stroke-width="0.5"/>
<rect x="307.48" y="471.11" width="6.61" height="39.55" fill="#ff0000"/>
<path d="M310.78,471.11 v39.55" stroke="#700000" stroke-width="0.9" stroke-opacity="0.85" fill="none"/>
<rect x="307.48" y="471.11" width="6.61" height="39.55" fill="none" stroke="#3a0000" stroke-width="0.6"/>
<rect x="314.09" y="471.7" width="6.61" height="38.96" fill="#80dc00"/>
<rect x="314.09" y="471.7" width="6.61" height="38.96" fill="url(#hg)" stroke="#0c0c0c" stroke-width="0.5"/>
<rect x="320.69" y="472.1" width="6.61" height="38.56" fill="#10c8d0"/>
<rect x="320.69" y="472.1" width="6.61" height="38.56" fill="url(#hc)" stroke="#0c0c0c" stroke-width="0.5"/>
<rect x="332.41" y="421.67" width="6.61" height="88.99" fill="#ff0000"/>
<path d="M335.71,421.67 v88.99" stroke="#700000" stroke-width="0.9" stroke-opacity="0.85" fill="none"/>
<rect x="332.41" y="421.67" width="6.61" height="88.99" fill="none" stroke="#3a0000" stroke-width="0.6"/>
<rect x="339.02" y="425.23" width="6.61" height="85.43" fill="#80dc00"/>
<rect x="339.02" y="425.23" width="6.61" height="85.43" fill="url(#hg)" stroke="#0c0c0c" stroke-width="0.5"/>
<rect x="345.62" y="421.08" width="6.61" height="89.58" fill="#10c8d0"/>
<rect x="345.62" y="421.08" width="6.61" height="89.58" fill="url(#hc)" stroke="#0c0c0c" stroke-width="0.5"/>
<path d="M226.3,510.66 h-1.4 M226.3,490.89 h-1.4 M226.3,471.11 h-1.4 M226.3,451.34 h-1.4 M226.3,431.56 h-1.4 M242.6,515.4 v1.4 M267.53,515.4 v1.4 M292.46,515.4 v1.4 M317.39,515.4 v1.4 M342.32,515.4 v1.4" stroke="#3a3a3a" stroke-width="0.5" fill="none"/>
<text class="t" x="223.4" y="512.81" text-anchor="end">0.0</text>
<text class="t" x="223.4" y="493.04" text-anchor="end">0.1</text>
<text class="t" x="223.4" y="473.26" text-anchor="end">0.2</text>
<text class="t" x="223.4" y="453.49" text-anchor="end">0.3</text>
<text class="t" x="223.4" y="433.71" text-anchor="end">0.4</text>
<text class="t" x="242.6" y="522.8" text-anchor="middle">1</text>
<text class="t" x="267.53" y="522.8" text-anchor="middle">2</text>
<text class="t" x="292.46" y="522.8" text-anchor="middle">3</text>
<text class="t" x="317.39" y="522.8" text-anchor="middle">4</text>
<text class="t" x="342.32" y="522.8" text-anchor="middle">5</text>
<text class="t" x="292.16" y="530.35" text-anchor="middle">Floor No.</text>
<text class="t yl" transform="translate(212.2,466.45) rotate(-90)" text-anchor="middle">Relative reduction of stiffness</text>
<rect x="232.3" y="422.65" width="12.1" height="3.85" fill="#ff0000"/>
<path d="M234.72,422.65 v3.85 M237.14,422.65 v3.85 M239.56,422.65 v3.85 M241.98,422.65 v3.85" stroke="#600000" stroke-width="0.8" stroke-opacity="0.95" fill="none"/>
<rect x="232.3" y="422.65" width="12.1" height="3.85" fill="none" stroke="#3a0000" stroke-width="0.6"/>
<text class="t" x="249.4" y="426.45">Actural value</text>
<rect x="232.3" y="431.65" width="12.1" height="3.85" fill="#80dc00"/>
<rect x="232.3" y="431.65" width="12.1" height="3.85" fill="url(#hg)" stroke="#0c0c0c" stroke-width="0.5"/>
<text class="t" x="249.4" y="435.45">Acceleration</text>
<rect x="232.3" y="440.65" width="12.1" height="3.85" fill="#10c8d0"/>
<rect x="232.3" y="440.65" width="12.1" height="3.85" fill="url(#hc)" stroke="#0c0c0c" stroke-width="0.5"/>
<text class="t" x="249.4" y="444.45">Displacement</text>
<text class="cap" stroke="#000" stroke-width="0.24" x="283.1" y="544.75" text-anchor="middle" textLength="48" lengthAdjust="spacingAndGlyphs">(<tspan class="b">22</tspan>) Case 22</text>
</g>
</g>
</svg>
</body>
</html>
